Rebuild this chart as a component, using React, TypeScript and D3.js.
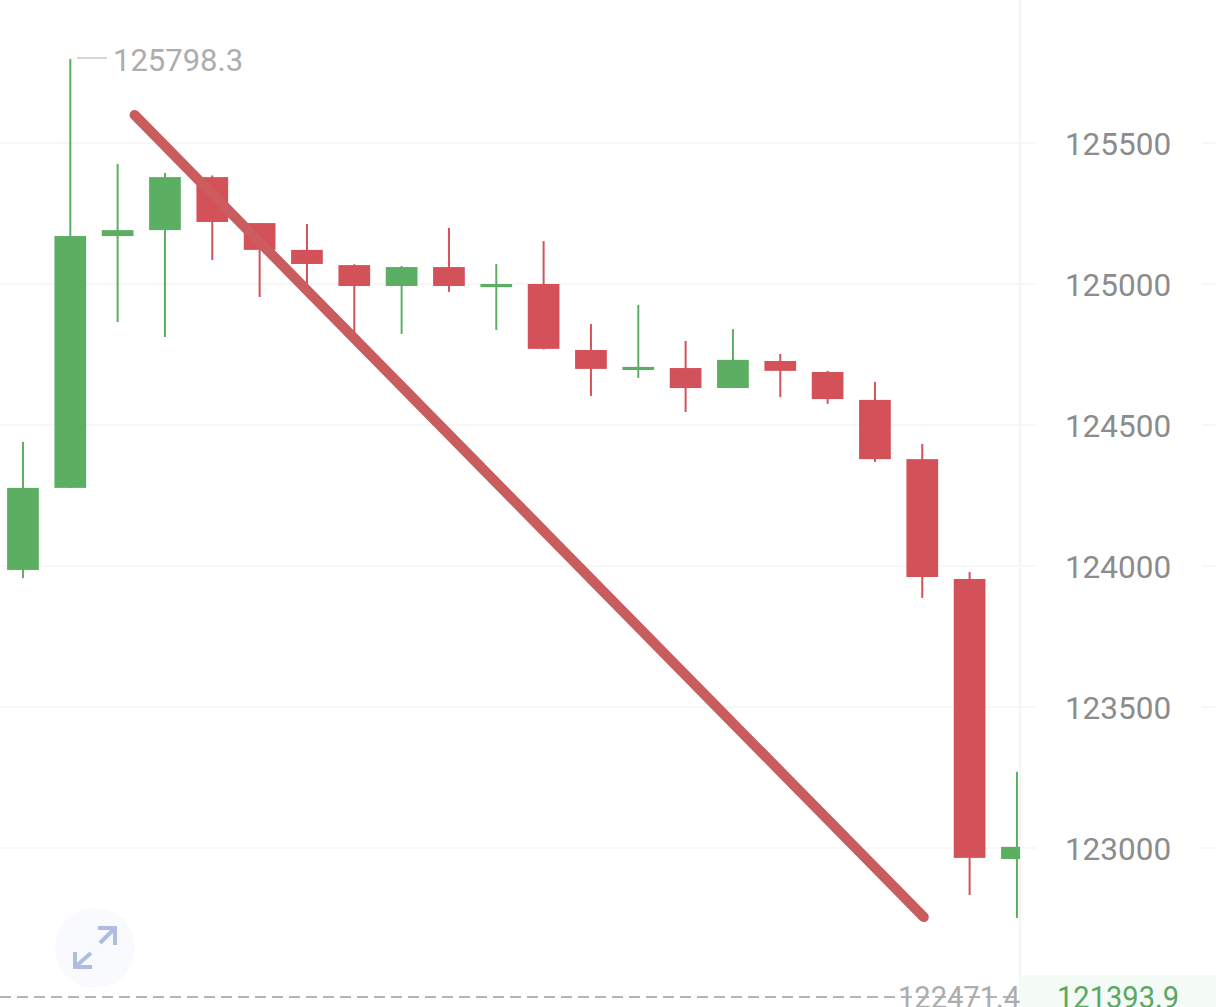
import React, { useEffect, useRef } from 'react';
import * as d3 from 'd3';

const opens = [123986, 124277, 125170, 125191, 125379, 125216, 125121, 125067, 124993, 125060, 124989, 125000, 124766, 124695, 124702, 124631, 124727, 124688, 124589, 124379, 123954, 122961];
const closes = [124277, 125170, 125191, 125379, 125220, 125121, 125071, 124993, 125060, 124993, 125000, 124770, 124699, 124706, 124631, 124731, 124692, 124592, 124379, 123961, 122965, 123004];
const highs = [124440, 125798, 125426, 125394, 125385, 125216, 125213, 125070, 125064, 125199, 125071, 125152, 124858, 124926, 124798, 124840, 124752, 124692, 124653, 124433, 123979, 123270];
const lows = [123957, 124277, 124865, 124812, 125085, 124954, 124996, 124830, 124823, 124972, 124837, 124768, 124603, 124667, 124546, 124631, 124599, 124575, 124369, 123887, 122833, 122752];
const priceTicks = [125500, 125000, 124500, 124000, 123500, 123000];
const trendIndex = [2.36, 19.03];
const trendValues = [125599, 122755];
const highLabel = '125798.3';
const lowLabel = '122471.4';
const lastLabel = '121393.9';
const lowLine = 122471.4;

const GREEN = '#5bae62';
const RED = '#d3525a';
const FONT = 'Roboto, sans-serif';
const FONT_SIZE = 31.5;

const App = () => {
  const svgRef = useRef<SVGSVGElement>(null);

  useEffect(() => {
    const width = 1216;
    const height = 1007;
    const plotRight = 1020;

    const svg = d3.select(svgRef.current);
    svg.selectAll('*').remove();
    svg.attr('width', width).attr('height', height);

    const y = d3.scaleLinear().domain([125500, 123000]).range([143, 848]);
    const x = d3
      .scaleBand<number>()
      .domain(opens.map((_, i) => i))
      .range([-0.7, 1040.6])
      .paddingInner(0.33)
      .paddingOuter(0.165);
    const cx = (i: number) => x(i)! + x.bandwidth() / 2;
    const xIndex = d3.scaleLinear().domain([0, 21]).range([cx(0), cx(21)]);

    svg.append('rect').attr('width', width).attr('height', height).attr('fill', '#fff');

    svg
      .append('defs')
      .append('clipPath')
      .attr('id', 'plot')
      .append('rect')
      .attr('width', plotRight)
      .attr('height', height);

    // Grid, with a gap behind the axis labels
    [[0, 1036], [1202, width]].forEach(([x1, x2]) => {
      svg
        .append('g')
        .selectAll('line')
        .data(priceTicks)
        .enter()
        .append('line')
        .attr('x1', x1)
        .attr('x2', x2)
        .attr('y1', (d) => y(d))
        .attr('y2', (d) => y(d))
        .attr('stroke', '#f7f7f7')
        .attr('stroke-width', 2);
    });

    // Right axis border and last price background
    svg
      .append('line')
      .attr('x1', plotRight)
      .attr('x2', plotRight)
      .attr('y1', 0)
      .attr('y2', height)
      .attr('stroke', '#f5f5f6')
      .attr('stroke-width', 2);
    svg
      .append('rect')
      .attr('x', plotRight)
      .attr('y', 975)
      .attr('width', width - plotRight)
      .attr('height', 32)
      .attr('fill', '#f4faf5');

    // Axis labels
    svg
      .selectAll('.tick-label')
      .data(priceTicks)
      .enter()
      .append('text')
      .attr('x', 1118)
      .attr('y', (d) => y(d) + 11.5)
      .attr('text-anchor', 'middle')
      .attr('font-family', FONT)
      .attr('font-size', FONT_SIZE)
      .attr('fill', '#8c8c8c')
      .text((d) => d);

    const trendLine = () =>
      svg
        .append('line')
        .attr('x1', xIndex(trendIndex[0]))
        .attr('y1', y(trendValues[0]))
        .attr('x2', xIndex(trendIndex[1]))
        .attr('y2', y(trendValues[1]))
        .attr('stroke-width', 10)
        .attr('stroke-linecap', 'round');

    // Hand drawn trend line, mostly hidden by the candles it crosses
    trendLine().attr('stroke', '#cb565c');

    // Candles
    const candles = svg
      .append('g')
      .attr('clip-path', 'url(#plot)')
      .selectAll('g')
      .data(opens.map((_, i) => i))
      .enter()
      .append('g')
      .attr('fill', (i) => (closes[i] >= opens[i] ? GREEN : RED))
      .attr('stroke', (i) => (closes[i] >= opens[i] ? GREEN : RED));

    candles
      .append('line')
      .attr('x1', (i) => cx(i))
      .attr('x2', (i) => cx(i))
      .attr('y1', (i) => y(highs[i]))
      .attr('y2', (i) => y(lows[i]))
      .attr('stroke-width', 2);

    candles
      .append('rect')
      .attr('x', (i) => x(i)!)
      .attr('y', (i) => y(Math.max(opens[i], closes[i])))
      .attr('width', x.bandwidth())
      .attr('height', (i) => Math.abs(y(opens[i]) - y(closes[i])))
      .attr('stroke', 'none');

    trendLine().attr('stroke', '#c86662').attr('opacity', 0.45);

    // High label
    const highY = y(d3.max(highs)!);
    svg
      .append('line')
      .attr('x1', 77)
      .attr('x2', 107)
      .attr('y1', highY - 1)
      .attr('y2', highY - 1)
      .attr('stroke', '#c8c8c8')
      .attr('stroke-width', 1.5);
    svg
      .append('text')
      .attr('x', 113)
      .attr('y', highY + 12)
      .attr('font-family', FONT)
      .attr('font-size', 31)
      .attr('fill', '#adadad')
      .text(highLabel);

    // Low price dashed line runs through its label, cut off at the bottom edge
    svg
      .append('line')
      .attr('x1', 0)
      .attr('x2', plotRight)
      .attr('y1', y(lowLine))
      .attr('y2', y(lowLine))
      .attr('stroke', '#b4b4b4')
      .attr('stroke-width', 2)
      .attr('stroke-dasharray', '11 6');
    svg
      .append('text')
      .attr('x', 898)
      .attr('y', 1008)
      .attr('textLength', 122)
      .attr('lengthAdjust', 'spacingAndGlyphs')
      .attr('font-family', FONT)
      .attr('font-size', FONT_SIZE)
      .attr('fill', '#adadad')
      .text(lowLabel);
    svg
      .append('text')
      .attr('x', 1057)
      .attr('y', 1008)
      .attr('textLength', 122)
      .attr('lengthAdjust', 'spacingAndGlyphs')
      .attr('font-family', FONT)
      .attr('font-size', FONT_SIZE)
      .attr('fill', '#5aa863')
      .text(lastLabel);

    // Fullscreen button
    const btn = svg.append('g').attr('transform', 'translate(95,948)');
    btn.append('circle').attr('r', 40).attr('fill', '#f9fafe');
    const arrow = d3.line();
    const arrows: [number, number][][] = [
      [[5, -5], [20, -20]],
      [[3, -20], [20, -20], [20, -3]],
      [[-20, 19], [-4, 5]],
      [[-20, 4], [-20, 19], [-3, 19]],
    ];
    btn
      .selectAll('path')
      .data(arrows)
      .enter()
      .append('path')
      .attr('d', (d) => arrow(d))
      .attr('fill', 'none')
      .attr('stroke', '#aebce0')
      .attr('stroke-width', 4);
  }, []);

  return <svg ref={svgRef} style={{ position: 'absolute', left: 0, top: 0, display: 'block' }} />;
};

export default App;
